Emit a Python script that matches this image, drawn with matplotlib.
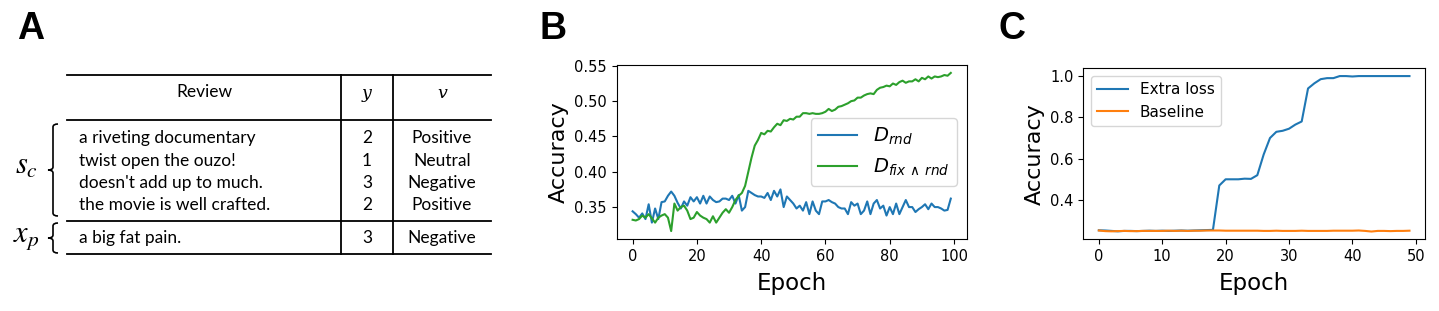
import numpy as np
import matplotlib.pyplot as plt
from matplotlib.path import Path
from matplotlib.patches import PathPatch

W, H = 1439, 311

# panel A table
reviews = ['a riveting documentary', 'twist open the ouzo!',
           "doesn't add up to much.", 'the movie is well crafted.',
           'a big fat pain.']
labels_y = ['2', '1', '3', '2', '3']
labels_v = ['Positive', 'Neutral', 'Negative', 'Positive', 'Negative']

# panel B: accuracy per epoch
acc_rnd = [0.344, 0.340, 0.335, 0.341, 0.333, 0.354, 0.328, 0.348, 0.333, 0.357,
           0.358, 0.366, 0.372, 0.366, 0.356, 0.348, 0.358, 0.352, 0.364, 0.358,
           0.364, 0.355, 0.366, 0.355, 0.365, 0.360, 0.357, 0.358, 0.362, 0.362,
           0.360, 0.366, 0.355, 0.367, 0.345, 0.350, 0.373, 0.370, 0.367, 0.365,
           0.365, 0.363, 0.370, 0.360, 0.373, 0.365, 0.375, 0.350, 0.365, 0.360,
           0.355, 0.348, 0.352, 0.345, 0.357, 0.340, 0.358, 0.345, 0.340, 0.358,
           0.358, 0.360, 0.357, 0.355, 0.350, 0.348, 0.348, 0.340, 0.357, 0.352,
           0.355, 0.340, 0.345, 0.358, 0.340, 0.355, 0.360, 0.348, 0.352, 0.338,
           0.350, 0.340, 0.355, 0.340, 0.350, 0.360, 0.350, 0.350, 0.343, 0.347,
           0.350, 0.354, 0.347, 0.355, 0.350, 0.350, 0.348, 0.345, 0.346, 0.360]
acc_rnd = acc_rnd[:99] + [0.362]
acc_fix = [0.332, 0.331, 0.333, 0.338, 0.335, 0.340, 0.334, 0.328, 0.335, 0.338,
           0.340, 0.335, 0.316, 0.355, 0.345, 0.350, 0.352, 0.345, 0.333, 0.335,
           0.343, 0.338, 0.335, 0.333, 0.328, 0.337, 0.328, 0.335, 0.342, 0.347,
           0.342, 0.350, 0.360, 0.366, 0.370, 0.380, 0.400, 0.420, 0.437, 0.445,
           0.455, 0.453, 0.458, 0.457, 0.463, 0.468, 0.466, 0.473, 0.472, 0.475,
           0.474, 0.478, 0.478, 0.483, 0.483, 0.482, 0.483, 0.482, 0.482, 0.483,
           0.485, 0.489, 0.486, 0.488, 0.492, 0.493, 0.495, 0.497, 0.500, 0.501,
           0.505, 0.505, 0.508, 0.510, 0.511, 0.510, 0.516, 0.519, 0.520, 0.522,
           0.521, 0.525, 0.523, 0.527, 0.529, 0.526, 0.528, 0.528, 0.531, 0.528,
           0.533, 0.531, 0.535, 0.532, 0.535, 0.534, 0.535, 0.537, 0.536, 0.540]

# panel C
acc_extra = [0.253, 0.252, 0.250, 0.248, 0.250, 0.250, 0.249, 0.250, 0.251, 0.250,
             0.251, 0.250, 0.251, 0.252, 0.251, 0.252, 0.253, 0.254, 0.255, 0.470,
             0.500, 0.500, 0.500, 0.503, 0.502, 0.520, 0.620, 0.700, 0.730, 0.735,
             0.745, 0.765, 0.780, 0.940, 0.965, 0.985, 0.990, 0.990, 1.000, 1.000,
             0.998, 1.000, 1.000, 1.000, 1.000, 1.000, 1.000, 1.000, 1.000, 1.000]
acc_base = [0.252, 0.249, 0.248, 0.249, 0.250, 0.249, 0.249, 0.250, 0.250, 0.250,
            0.250, 0.251, 0.250, 0.251, 0.250, 0.251, 0.251, 0.252, 0.252, 0.252,
            0.251, 0.251, 0.251, 0.251, 0.251, 0.251, 0.250, 0.250, 0.251, 0.250,
            0.250, 0.250, 0.251, 0.250, 0.250, 0.250, 0.250, 0.251, 0.251, 0.251,
            0.251, 0.252, 0.250, 0.247, 0.250, 0.250, 0.249, 0.250, 0.250, 0.251]

plt.rcParams['mathtext.fontset'] = 'dejavusans'
fig = plt.figure(figsize=(W / 100, H / 100), dpi=100)

# ---- panel A: table drawn in pixel coordinates
axa = fig.add_axes([0, 0, 500 / W, 1])
axa.set_xlim(0, 500)
axa.set_ylim(H, 0)
axa.axis('off')
lw = 1.3
for yy in [75, 120, 221, 254]:
    axa.plot([67, 491], [yy, yy], color='black', lw=lw)
for xx in [341, 393]:
    axa.plot([xx, xx], [75, 254], color='black', lw=lw)
tfont = dict(family='Lato', fontsize=12.5)
axa.text(204, 92, 'Review', ha='center', va='center', **tfont)
axa.text(367, 93, 'y', ha='center', va='center', family='DejaVu Serif',
         style='italic', fontsize=12.5)
axa.text(442, 93, 'v', ha='center', va='center', family='DejaVu Serif',
         style='italic', fontsize=12.5)
rows_y = [138, 161, 183, 205, 238]
for i, r in enumerate(reviews):
    axa.text(79, rows_y[i], r, ha='left', va='center', **tfont)
    axa.text(367, rows_y[i], labels_y[i], ha='center', va='center', **tfont)
    axa.text(442, rows_y[i], labels_v[i], ha='center', va='center', **tfont)


def brace(ax, x, y0, y1, w=5, tip=5):
    ym = (y0 + y1) / 2
    verts = [(x + w, y0), (x, y0), (x, y0 + 3),
             (x, ym - 3), (x, ym), (x - tip, ym),
             (x, ym), (x, ym + 3),
             (x, y1 - 3), (x, y1), (x + w, y1)]
    codes = [Path.MOVETO, Path.CURVE3, Path.CURVE3,
             Path.LINETO, Path.CURVE3, Path.CURVE3,
             Path.CURVE3, Path.CURVE3,
             Path.LINETO, Path.CURVE3, Path.CURVE3]
    ax.add_patch(PathPatch(Path(verts, codes), fill=False, lw=1.2))


brace(axa, 53, 124, 216)
brace(axa, 53, 223, 253)
axa.text(26, 166, r'$s_c$', ha='center', va='center', fontsize=22,
         math_fontfamily='stix')
axa.text(26, 238, r'$x_p$', ha='center', va='center', fontsize=22,
         math_fontfamily='stix')

# ---- panel B
axb = fig.add_axes([616.7 / W, 1 - 239 / H, 350 / W, 174 / H])
ep = np.arange(len(acc_rnd))
axb.plot(ep, acc_rnd, color='#1f77b4', lw=1.5, label=r'$D_{rnd}$')
axb.plot(ep, acc_fix, color='#2ca02c', lw=1.5, label=r'$D_{fix\,\wedge\,rnd}$')
axb.set_yticks([0.35, 0.40, 0.45, 0.50, 0.55])
axb.set_xticks([0, 20, 40, 60, 80, 100])
axb.tick_params(labelsize=10.5)
axb.set_xlabel('Epoch', fontsize=16.5, labelpad=6)
axb.set_ylabel('Accuracy', fontsize=16)
axb.legend(loc='center right', fontsize=14)

# ---- panel C
axc = fig.add_axes([1083.3 / W, 1 - 239.3 / H, 341.7 / W, 171 / H])
ep2 = np.arange(len(acc_extra))
axc.plot(ep2, acc_extra, color='#1f77b4', lw=1.5, label='Extra loss')
axc.plot(ep2, acc_base, color='#ff7f0e', lw=1.5, label='Baseline')
axc.set_yticks([0.4, 0.6, 0.8, 1.0])
axc.set_xticks([0, 10, 20, 30, 40, 50])
axc.tick_params(labelsize=10.5)
axc.set_xlabel('Epoch', fontsize=16.5, labelpad=6)
axc.set_ylabel('Accuracy', fontsize=16)
axc.legend(loc='upper left', fontsize=11)

for lx, lt in [(17, 'A'), (540, 'B'), (999, 'C')]:
    fig.text(lx / W, 1 - 39 / H, lt, ha='left', va='baseline',
             fontsize=27, fontweight='bold', family='Liberation Sans')

fig.savefig('out.png', dpi=100)
